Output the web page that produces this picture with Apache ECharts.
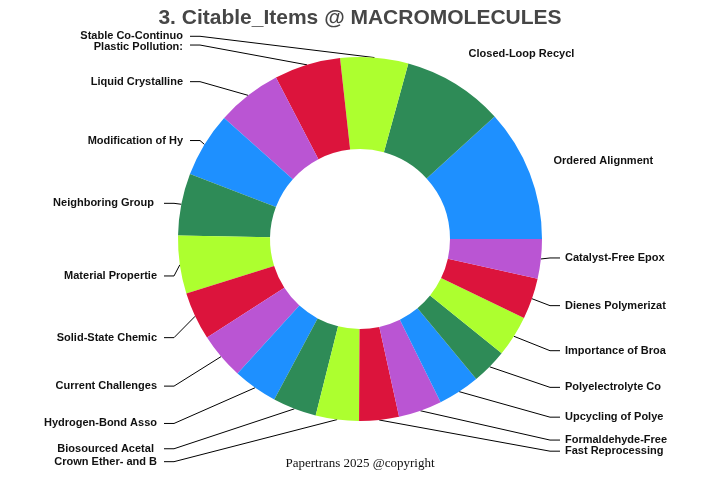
<!DOCTYPE html>
<html>
<head>
<meta charset="utf-8">
<script src="https://cdn.jsdelivr.net/npm/echarts@6/dist/echarts.min.js"></script>
<style>
html,body{margin:0;padding:0;background:#fff;}
#chart{width:720px;height:480px;}
</style>
</head>
<body>
<div id="chart"></div>
<script>
const categories = [
  'Ordered Alignment', 'Closed-Loop Recycl', 'Stable Co-Continuo', 'Plastic Pollution:',
  'Liquid Crystalline', 'Modification of Hy', 'Neighboring Group ', 'Material Propertie',
  'Solid-State Chemic', 'Current Challenges', 'Hydrogen-Bond Asso', 'Biosourced Acetal ',
  'Crown Ether- and B', 'Fast Reprocessing', 'Formaldehyde-Free', 'Upcycling of Polye',
  'Polyelectrolyte Co', 'Importance of Broa', 'Dienes Polymerizat', 'Catalyst-Free Epox'
];
const values = [
  42.3, 32.3, 21.7, 21.2,
  20.8, 20.8, 19.8, 18.5,
  15.4, 14.9, 14.2, 14.0,
  13.8, 12.7, 13.9, 13.4,
  11.4, 13.2, 13.1, 12.6
];
const palette = ['#1E90FF', '#2E8B57', '#ADFF2F', '#DC143C', '#BA55D3'];
const titleText = '3. Citable_Items @ MACROMOLECULES';
const footerText = 'Papertrans 2025 @copyright';

// layout settings
const CX = 360, CY = 239, R_IN = 90, R_OUT = 182;
const total = values.reduce((a, b) => a + b, 0);

function layoutLabel(params) {
  const p0 = params.labelLinePoints ? params.labelLinePoints[0] : null;
  if (!p0) return {};
  const dx = p0[0] - CX, dy = p0[1] - CY;
  const share = values[params.dataIndex] / total;
  if (share > 0.08) {
    // big slices: label placed radially, no connector
    return {
      x: CX + dx * 1.14, y: CY + dy * 1.19,
      align: 'left', verticalAlign: 'middle',
      labelLinePoints: [p0, p0, p0]
    };
  }
  const right = dx > (dy < 0 ? 0.15 * R_OUT : 0);
  if (right) {
    const x = CX + R_OUT + 23;
    const y = CY + dy * 1.2 - 5;
    return {
      x: x, y: y, align: 'left', verticalAlign: 'middle',
      labelLinePoints: [p0, [x - 15, y], [x - 5, y]]
    };
  }
  const upper = dy < -0.4 * R_OUT;
  const xEnd = upper ? CX - R_OUT + 5 : CX - R_OUT - 21;
  const y = CY + dy * 1.2 + (upper ? 15 : 6);
  const res = {
    x: xEnd, y: y, align: 'right', verticalAlign: 'middle',
    labelLinePoints: [p0, [xEnd + 17, y], [xEnd + 7, y]]
  };
  if (upper) res.moveOverlap = 'shiftY';
  return res;
}

const chart = echarts.init(document.getElementById('chart'), null, {renderer: 'canvas'});
chart.setOption({
  animation: false,
  color: palette,
  title: {
    text: titleText,
    left: 'center',
    top: 3,
    textStyle: {fontFamily: 'Liberation Sans, Arial, sans-serif', fontSize: 21, fontWeight: 'bold', color: '#464646'}
  },
  graphic: [{
    type: 'text',
    left: 'center',
    top: 457,
    style: {text: footerText, font: '13px "Liberation Serif", "Times New Roman", serif', fill: '#111'}
  }],
  series: [{
    type: 'pie',
    radius: [R_IN, R_OUT],
    center: [CX, CY],
    startAngle: 0,
    clockwise: false,
    avoidLabelOverlap: false,
    data: categories.map((c, i) => ({name: c, value: values[i]})),
    label: {
      show: true,
      position: 'outside',
      formatter: '{b}',
      fontFamily: 'Liberation Sans, Arial, sans-serif',
      fontSize: 11,
      fontWeight: 'bold',
      color: '#111'
    },
    labelLine: {
      show: true,
      length: 10,
      length2: 8,
      lineStyle: {color: '#000', width: 1}
    },
    labelLayout: layoutLabel
  }]
});
</script>
</body>
</html>
